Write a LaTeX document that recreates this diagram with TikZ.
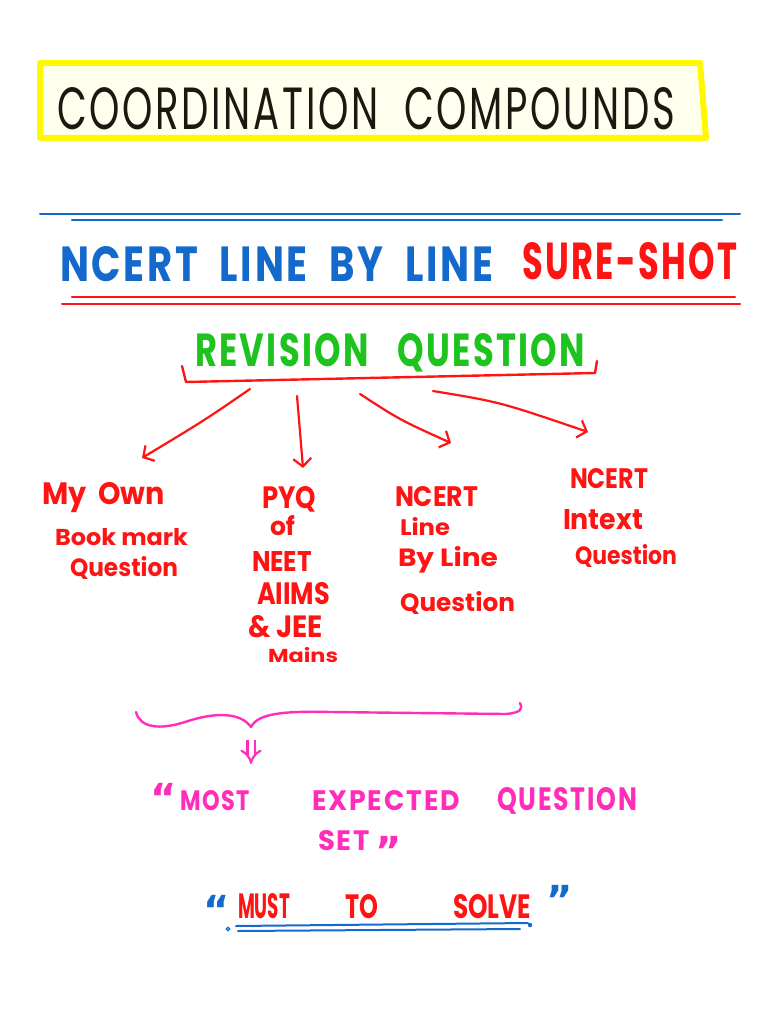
\documentclass[tikz,border=0pt]{standalone}
\usepackage{fontspec}
\setmainfont{Poppins}
\newfontfamily\quotefont{DejaVu Sans}
\newfontfamily\widefont[LetterSpace=7]{Poppins}
\usepackage{graphicx}
\usetikzlibrary{arrows.meta}
\definecolor{hlyellow}{RGB}{255,248,0}
\definecolor{cream}{RGB}{255,255,238}
\definecolor{inkblack}{RGB}{25,25,15}
\definecolor{penblue}{RGB}{20,105,205}
\definecolor{penred}{RGB}{255,20,20}
\definecolor{pengreen}{RGB}{30,195,30}
\definecolor{penpink}{RGB}{255,45,185}
\newcommand{\fitbox}[3]{\resizebox{#1}{#2}{#3}}
\begin{document}
\begin{tikzpicture}[x=1pt,y=-1pt,
  txt/.style={anchor=base west, inner sep=0pt, outer sep=0pt},
  redtxt/.style={txt, text=penred, font=\bfseries},
  headtxt/.style={txt, font=\widefont\bfseries},
  pinktxt/.style={txt, text=penpink, font=\widefont\bfseries},
  quote/.style={txt, font=\quotefont\bfseries\fontsize{40}{40}\selectfont},
  rule/.style={line width=2pt, line cap=round},
  arr/.style={penred, line width=2.2pt, line cap=round,
    -{Straight Barb[length=8pt,width=18pt,line width=2.2pt]}}]
\useasboundingbox[fill=white] (0,0) rectangle (768,1024);

% title box
\draw[hlyellow, line width=6pt, line join=round, fill=cream]
  (40,63) -- (700,63) -- (706,138) -- (40,138) -- cycle;
\node[txt, font=\widefont, text=inkblack] (title) at (57,130) {\fitbox{618pt}{42pt}{COORDINATION\ \ COMPOUNDS}};

% blue rules
\coordinate (bl1a) at (40,214); \coordinate (bl1b) at (740,214);
\coordinate (bl2a) at (72,220); \coordinate (bl2b) at (722,220);
\draw[rule, penblue] (bl1a) -- (bl1b);
\draw[rule, penblue, line width=2.4pt] (bl2a) -- (bl2b);

\node[headtxt, text=penblue] (ncert) at (60,281) {\fitbox{433pt}{35pt}{NCERT\ \ LINE\ \ BY\ \ LINE}};
\node[headtxt, text=penred] (sure) at (522,279) {\fitbox{215pt}{37pt}{SURE-SHOT}};

% red rules
\coordinate (rl1a) at (72,297); \coordinate (rl1b) at (735,297);
\coordinate (rl2a) at (62,304); \coordinate (rl2b) at (740,304);
\draw[rule, penred, line width=2.4pt] (rl1a) -- (rl1b);
\draw[rule, penred] (rl2a) -- (rl2b);

% revision question
\node[headtxt, text=pengreen] (rev) at (195,366) {\fitbox{390pt}{33pt}{REVISION\ \ \ QUESTION}};
\coordinate (brL) at (182,366);
\coordinate (brLb) at (186,382);
\coordinate (brRb) at (595,373);
\coordinate (brR) at (597,361);
\draw[penred, line width=2.4pt, line cap=round, line join=round]
  (brL) -- (brLb) -- (brRb) -- (brR);

% arrows
\coordinate (s1) at (250,389); \coordinate (e1) at (142,458);
\coordinate (s2) at (297,396); \coordinate (e2) at (303,468);
\coordinate (s3) at (360,394); \coordinate (e3) at (451,443);
\coordinate (s4) at (433,391); \coordinate (e4) at (588,432);
\draw[arr] (s1) .. controls (205,420) .. (e1);
\draw[arr] (s2) -- (e2);
\draw[arr] (s3) .. controls (400,420) .. (e3);
\draw[arr] (s4) .. controls (500,402) .. (e4);

% column 1
\node[redtxt] (c1a) at (42,504) {\fitbox{123pt}{22pt}{My\ \ Own}};
\node[redtxt] (c1b) at (55,545) {\fitbox{133pt}{17pt}{Book mark}};
\node[redtxt] (c1c) at (70,576) {\fitbox{108pt}{20pt}{Question}};
% column 2
\node[redtxt] (c2a) at (262,508) {\fitbox{54pt}{22pt}{PYQ}};
\node[redtxt] (c2b) at (270,535) {\fitbox{25pt}{20pt}{of}};
\node[redtxt] (c2c) at (252,571) {\fitbox{60pt}{20pt}{NEET}};
\node[redtxt] (c2d) at (257,604) {\fitbox{73pt}{22pt}{AIIMS}};
\node[redtxt] (c2e) at (248,637) {\fitbox{75pt}{22pt}{\&\ JEE}};
\node[redtxt] (c2f) at (268,662) {\fitbox{70pt}{15pt}{Mains}};
% column 3
\node[redtxt] (c3a) at (395,506) {\fitbox{83pt}{20pt}{NCERT}};
\node[redtxt] (c3b) at (400,535) {\fitbox{50pt}{18pt}{Line}};
\node[redtxt] (c3c) at (398,566) {\fitbox{100pt}{20pt}{By\ Line}};
\node[redtxt] (c3d) at (400,611) {\fitbox{115pt}{20pt}{Question}};
% column 4
\node[redtxt] (c4a) at (570,488) {\fitbox{78pt}{20pt}{NCERT}};
\node[redtxt] (c4b) at (563,529) {\fitbox{80pt}{20pt}{Intext}};
\node[redtxt] (c4c) at (575,564) {\fitbox{102pt}{20pt}{Question}};

% pink brace
\coordinate (bL) at (136,712);
\coordinate (bC) at (251,727);
\coordinate (bR) at (520,703);
\draw[penpink, line width=2.4pt, line cap=round, line join=round]
  (bL) .. controls (140,728) and (160,730) .. (185,722)
  .. controls (215,712) and (240,712) .. (bC)
  .. controls (258,713) and (285,711) .. (330,712)
  -- (505,714) .. controls (522,713) and (523,708) .. (bR);
\coordinate (dA) at (251,740);
\coordinate (dB) at (251,764);
\draw[penpink, line width=2.2pt, double distance=5pt,
  -{Implies[length=8pt]}] (dA) -- (dB);

% most expected question set
\node[quote, text=penpink] (q1) at (150,812) {“};
\node[pinktxt] (most) at (180,810) {\fitbox{70pt}{20pt}{MOST}};
\node[pinktxt] (exp) at (312,810) {\fitbox{148pt}{20pt}{EXPECTED}};
\node[pinktxt] (ques) at (497,810) {\fitbox{140pt}{23pt}{QUESTION}};
\node[pinktxt] (set) at (318,850) {\fitbox{52pt}{20pt}{SET}};
\node[quote, text=penpink] (q2) at (375,865) {”};

% must to solve
\node[quote, text=penblue] (q3) at (203,924) {“};
\node[redtxt] (must) at (238,918) {\fitbox{52pt}{25pt}{MUST}};
\node[redtxt] (to) at (345,918) {\fitbox{33pt}{24pt}{TO}};
\node[redtxt] (solve) at (453,918) {\fitbox{78pt}{24pt}{SOLVE}};
\node[quote, text=penblue] (q4) at (546,914) {”};
\coordinate (uA) at (236,926); \coordinate (uB) at (528,923);
\coordinate (uC) at (238,931); \coordinate (uD) at (520,929);
\draw[penblue, line width=2pt, line cap=round] (uA) -- (uB);
\draw[penblue, line width=2pt, line cap=round] (uC) -- (uD);
\draw[penblue, line width=1.2pt] (228,929) circle (1.8pt);
\fill[penblue] (530,925) circle (2.2pt);
\end{tikzpicture}
\end{document}
